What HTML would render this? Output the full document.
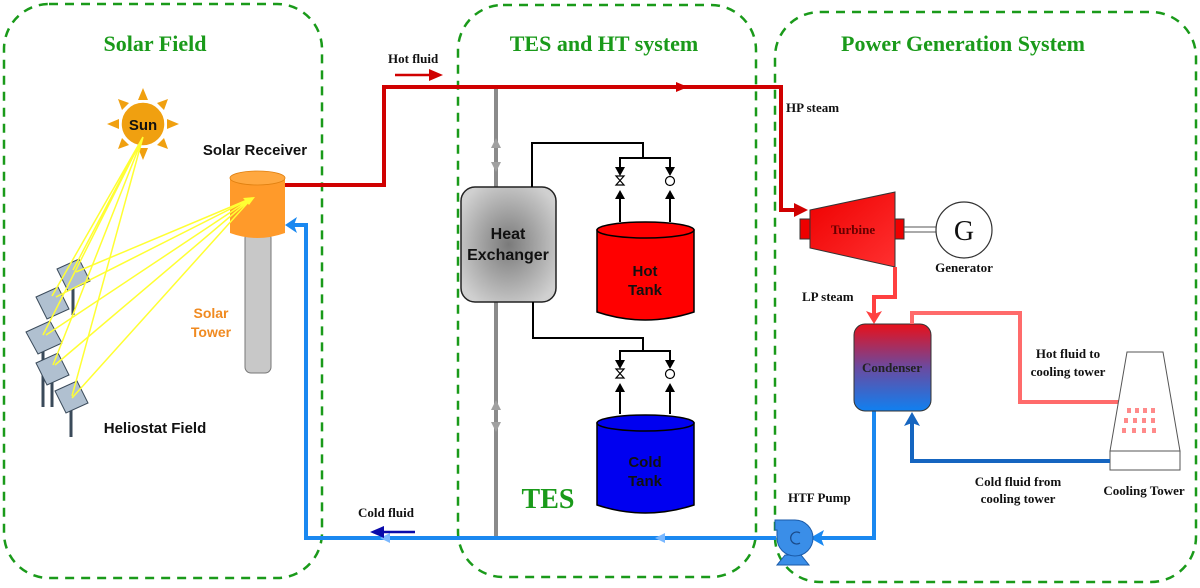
<!DOCTYPE html>
<html><head><meta charset="utf-8"><style>body{margin:0;background:#fff}svg{display:block}</style></head><body>
<svg width="1200" height="588" viewBox="0 0 1200 588" xmlns="http://www.w3.org/2000/svg" font-family="Liberation Sans, sans-serif">
<defs>
<radialGradient id="hx" cx="50%" cy="50%" r="60%"><stop offset="0" stop-color="#7a7a7a"/><stop offset="1" stop-color="#d0d0d0"/></radialGradient>
<linearGradient id="cd" x1="0" y1="0" x2="0" y2="1"><stop offset="0" stop-color="#e8101a"/><stop offset="0.5" stop-color="#6a4aa0"/><stop offset="1" stop-color="#1080f0"/></linearGradient>
<linearGradient id="tb" x1="0" y1="0" x2="1" y2="1"><stop offset="0" stop-color="#e00"/><stop offset="1" stop-color="#ff3030"/></linearGradient>
</defs>
<g fill="none" stroke="#1a9a1a" stroke-width="2.5" stroke-dasharray="9 7">
<rect x="4" y="4" width="318" height="574" rx="45"/>
<rect x="458" y="5" width="298" height="572" rx="45"/>
<rect x="775" y="12" width="421" height="570" rx="45"/>
</g>
<g font-family="Liberation Serif, serif" font-weight="bold" fill="#1a9a1a" font-size="22" text-anchor="middle">
<text x="155" y="51">Solar Field</text>
<text x="604" y="51">TES and HT system</text>
<text x="963" y="51">Power Generation System</text>
<text x="548" y="508" font-size="28">TES</text>
</g>
<line x1="496" y1="87" x2="496" y2="538" stroke="#8a8a8a" stroke-width="4"/>
<g fill="#a0a0a0"><path d="M496,138 l-5,10 h10z M496,172 l-5,-10 h10z M496,400 l-5,10 h10z M496,432 l-5,-10 h10z"/></g>
<polyline points="285,185 384,185 384,87 781,87 781,210 800,210" fill="none" stroke="#d00000" stroke-width="4"/>
<path d="M808,210 l-14,-7 v14z M688,87 l-12,-5 v10z" fill="#d00000"/>
<line x1="395" y1="75" x2="430" y2="75" stroke="#d00000" stroke-width="2.5"/><path d="M443,75 l-14,-6 v12z" fill="#d00000"/>
<g font-family="Liberation Serif, serif" font-weight="bold" font-size="13" fill="#111">
<text x="388" y="63">Hot fluid</text>
<text x="786" y="112">HP steam</text>
<text x="802" y="301">LP steam</text>
<text x="358" y="517">Cold fluid</text>
<text x="788" y="502">HTF Pump</text>
<text x="1068" y="358" text-anchor="middle">Hot fluid to</text>
<text x="1068" y="376" text-anchor="middle">cooling tower</text>
<text x="1018" y="486" text-anchor="middle">Cold fluid from</text>
<text x="1018" y="503" text-anchor="middle">cooling tower</text>
<text x="1144" y="495" text-anchor="middle">Cooling Tower</text>
<text x="964" y="272" text-anchor="middle">Generator</text>
</g>
<polyline points="776,538 306,538 306,225 292,225" fill="none" stroke="#1a88f0" stroke-width="4"/>
<path d="M285,225 l12,-8 l-3,8 l3,8z" fill="#1a88f0"/>
<path d="M380,538 l10,-5 v10z M655,538 l10,-5 v10z" fill="#7ab8ff"/>
<line x1="382" y1="532" x2="415" y2="532" stroke="#0a0aaa" stroke-width="2.5"/><path d="M370,532 l14,-6 v12z" fill="#0a0aaa"/>
<polyline points="874,411 874,538 820,538" fill="none" stroke="#1a88f0" stroke-width="4"/>
<path d="M810,538 l14,-8 l-3,8 l3,8z" fill="#1a88f0"/>
<path d="M785,555 l-8,10 h32 l-8,-10z" fill="#3a8ee8" stroke="#1a5aa8" stroke-width="1"/>
<path d="M775,520 h20 a18,18 0 1 1 -18,18 v-8 h-2z" fill="#3a8ee8" stroke="#1a5aa8" stroke-width="1"/>
<path d="M800,533 a6,6 0 1 0 0,10" fill="none" stroke="#1a4a88" stroke-width="1.2"/>
<g fill="#f0a010">
<path d="M143,88 l-5,12 h10z M143,160 l-5,-12 h10z M107,124 l12,-5 v10z M179,124 l-12,-5 v10z M118,99 l11,4 l-7,7z M168,99 l-11,4 l7,7z M118,149 l11,-4 l-7,-7z M168,149 l-11,-4 l7,-7z"/>
<circle cx="143" cy="124" r="22" stroke="#fff" stroke-width="1.5"/>
</g>
<text x="143" y="130" font-size="15" font-weight="bold" text-anchor="middle" fill="#111">Sun</text>
<rect x="245" y="232" width="26" height="141" rx="6" fill="#c8c8c8" stroke="#777"/>
<path d="M230,178 v55 q27,10 55,0 v-55z" fill="#ff9a2a"/>
<ellipse cx="257.5" cy="178" rx="27.5" ry="7" fill="#ffa840" stroke="#e08010" stroke-width="0.8"/>
<text x="255" y="155" font-size="15" font-weight="bold" text-anchor="middle" fill="#111">Solar Receiver</text>
<text x="211" y="318" font-size="14" font-weight="bold" text-anchor="middle" fill="#f08a20">Solar</text>
<text x="211" y="337" font-size="14" font-weight="bold" text-anchor="middle" fill="#f08a20">Tower</text>
<text x="155" y="433" font-size="15" font-weight="bold" text-anchor="middle" fill="#111">Heliostat Field</text>
<g stroke="#3a4a5a" stroke-width="3"><line x1="73" y1="280" x2="73" y2="315"/><line x1="43" y1="340" x2="43" y2="407"/><line x1="52" y1="380" x2="52" y2="407"/><line x1="71" y1="403" x2="71" y2="437"/></g>
<g fill="#b0c0d0" stroke="#3a4a5a" stroke-width="1">
<path d="M57,269 l22,-10 l11,22 l-22,10z"/>
<path d="M36,297 l22,-10 l11,22 l-22,10z"/>
<path d="M26,332 l24,-11 l12,22 l-24,11z"/>
<path d="M36,363 l22,-10 l11,22 l-22,10z"/>
<path d="M55,391 l22,-10 l11,22 l-22,10z"/>
</g>
<g stroke="#ffff33" stroke-width="1.5" fill="none">
<path d="M143,137 L73,270 M143,137 L52,296 M143,137 L43,335 M143,137 L53,365 M143,137 L72,396"/>
<path d="M252,198 L76,272 M252,198 L56,297 M252,198 L46,335 M252,198 L55,365 M252,198 L72,398"/>
</g>
<path d="M255,197 l-12,1 l6,7z" fill="#ffff33"/>
<rect x="461" y="187" width="95" height="115" rx="14" fill="url(#hx)" stroke="#222" stroke-width="1.5"/>
<text x="508" y="239" font-size="16" font-weight="bold" text-anchor="middle" fill="#111">Heat</text>
<text x="508" y="260" font-size="16" font-weight="bold" text-anchor="middle" fill="#111">Exchanger</text>
<g fill="none" stroke="#000" stroke-width="2">
<polyline points="532,187 532,143 643,143 643,158"/>
<polyline points="620,172 620,158 670,158 670,172"/>
<polyline points="533,302 533,338 643,338 643,351"/>
<polyline points="620,365 620,351 670,351 670,365"/>
<line x1="620" y1="222" x2="620" y2="198" /><line x1="670" y1="222" x2="670" y2="198"/>
<line x1="620" y1="414" x2="620" y2="390" /><line x1="670" y1="414" x2="670" y2="390"/>
</g>
<g fill="#000">
<path d="M620,176 l-5,-9 h10z M670,176 l-5,-9 h10z M620,190 l-5,9 h10z M670,190 l-5,9 h10z"/>
<path d="M620,369 l-5,-9 h10z M670,369 l-5,-9 h10z M620,383 l-5,9 h10z M670,383 l-5,9 h10z"/>
</g>
<g fill="#fff" stroke="#000" stroke-width="1.2">
<path d="M616,176 h8 l-8,9 h8z"/><circle cx="670" cy="181" r="4.5"/>
<path d="M616,369 h8 l-8,9 h8z"/><circle cx="670" cy="374" r="4.5"/>
</g>
<path d="M597,230 v82 q48,16 97,0 v-82z" fill="#ff0000" stroke="#000" stroke-width="1.5"/>
<ellipse cx="645.5" cy="230" rx="48.5" ry="8" fill="#ff0000" stroke="#000" stroke-width="1.5"/>
<text x="645" y="276" font-size="15" font-weight="bold" text-anchor="middle" fill="#111">Hot</text>
<text x="645" y="295" font-size="15" font-weight="bold" text-anchor="middle" fill="#111">Tank</text>
<path d="M597,423 v82 q48,16 97,0 v-82z" fill="#0000f0" stroke="#000" stroke-width="1.5"/>
<ellipse cx="645.5" cy="423" rx="48.5" ry="8" fill="#0000f0" stroke="#000" stroke-width="1.5"/>
<text x="645" y="467" font-size="15" font-weight="bold" text-anchor="middle" fill="#111">Cold</text>
<text x="645" y="486" font-size="15" font-weight="bold" text-anchor="middle" fill="#111">Tank</text>
<rect x="800" y="219" width="11" height="20" fill="#e00" stroke="#333" stroke-width="1"/>
<rect x="894" y="219" width="10" height="20" fill="#e00" stroke="#333" stroke-width="1"/>
<path d="M810,210 L895,192 L895,267 L810,248z" fill="url(#tb)" stroke="#333" stroke-width="1"/>
<text x="853" y="234" font-family="Liberation Serif, serif" font-size="13" font-weight="bold" text-anchor="middle" fill="#600">Turbine</text>
<line x1="904" y1="227" x2="936" y2="227" stroke="#555" stroke-width="1"/><line x1="904" y1="232" x2="936" y2="232" stroke="#555" stroke-width="1"/>
<circle cx="964" cy="230" r="28" fill="#fff" stroke="#333" stroke-width="1.2"/>
<text x="964" y="240" font-family="Liberation Serif, serif" font-size="28" text-anchor="middle" fill="#111">G</text>
<polyline points="895,267 895,297 874,297 874,314" fill="none" stroke="#ff4040" stroke-width="4"/>
<path d="M874,324 l-8,-13 l8,3 l8,-3z" fill="#ff4040"/>
<rect x="854" y="324" width="77" height="87" rx="11" fill="url(#cd)" stroke="#333" stroke-width="1"/>
<text x="892" y="372" font-family="Liberation Serif, serif" font-size="13" font-weight="bold" text-anchor="middle" fill="#222">Condenser</text>
<polyline points="912,324 912,313 1020,313 1020,402 1138,402" fill="none" stroke="#ff6b6b" stroke-width="4"/>
<path d="M1145,402 l-14,-8 l3,8 l-3,8z" fill="#ff6b6b"/>
<path d="M1127,352 L1163,352 L1180,451 L1110,451z" fill="#fff" stroke="#555" stroke-width="1"/>
<rect x="1110" y="451" width="70" height="19" fill="#fff" stroke="#555" stroke-width="1"/>
<g fill="#ff8a8a"><rect x="1127" y="408" width="4" height="5"/><rect x="1135" y="408" width="4" height="5"/><rect x="1143" y="408" width="4" height="5"/><rect x="1151" y="408" width="4" height="5"/>
<rect x="1124" y="418" width="4" height="5"/><rect x="1133" y="418" width="4" height="5"/><rect x="1142" y="418" width="4" height="5"/><rect x="1151" y="418" width="4" height="5"/>
<rect x="1122" y="428" width="4" height="5"/><rect x="1132" y="428" width="4" height="5"/><rect x="1142" y="428" width="4" height="5"/><rect x="1152" y="428" width="4" height="5"/></g>
<polyline points="1110,461 912,461 912,422" fill="none" stroke="#1565c0" stroke-width="4"/>
<path d="M912,412 l-8,14 l8,-3 l8,3z" fill="#1565c0"/>
</svg>
</body></html>
